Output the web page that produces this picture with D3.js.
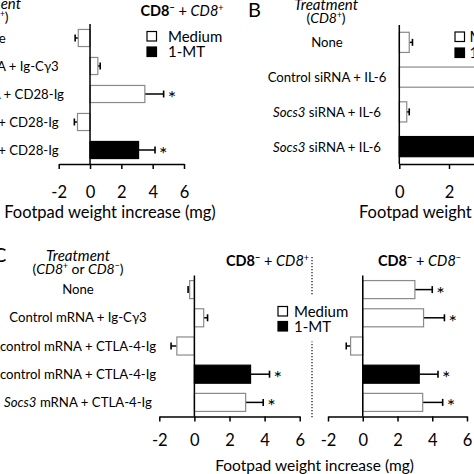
<!DOCTYPE html>
<html>
<head>
<meta charset="utf-8">
<script src="https://cdn.jsdelivr.net/npm/d3@7"></script>
<style>
  html, body { margin: 0; padding: 0; background: #fff; }
  svg { display: block; font-family: Lato, "Noto Sans", sans-serif; }
</style>
</head>
<body>
<svg id="chart" width="474" height="474"></svg>
<script>
// ---- data ----
var treatments = ['Medium', '1-MT'];
var tickValues = [-2, 0, 2, 4, 6];
var tickLabels = ['-2', '0', '2', '4', '6'];
var tickValuesB = [0, 2, 4, 6];
var tickLabelsB = ['0', '2', '4', '6'];

// panel A (CD8- + CD8+)
var groupsA = ['None', 'Control mRNA + Ig-C\u03b33', 'Control mRNA + CD28-Ig', 'Socs3 mRNA + CD28-Ig', 'Socs3 mRNA + CD28-Ig'];
var seriesA = ['Medium', 'Medium', 'Medium', 'Medium', '1-MT'];
var valuesA = [-0.75, 0.5, 3.5, -0.8, 3.1];
var errorsA = [0.2, 0.15, 1.2, 0.2, 1.05];
var starsA = [false, false, true, false, true];

// panel B (CD8+)
var groupsB = ['None', 'Control siRNA + IL-6', 'Socs3 siRNA + IL-6', 'Socs3 siRNA + IL-6'];
var seriesB = ['Medium', 'Medium', 'Medium', '1-MT'];
var valuesB = [0.4, 4.2, 0.3, 4.0];
var errorsB = [0.13, 0.9, 0.1, 0.8];
var starsB = [false, true, false, true];

// panel C
var groupsC = ['None', 'Control mRNA + Ig-C\u03b33', 'control mRNA + CTLA-4-Ig', 'control mRNA + CTLA-4-Ig', 'Socs3 mRNA + CTLA-4-Ig'];
var seriesC = ['Medium', 'Medium', 'Medium', '1-MT', 'Medium'];
var valuesC1 = [-0.27, 0.53, -1.0, 3.2, 2.92];   // CD8- + CD8+
var errorsC1 = [0.09, 0.22, 0.33, 1.08, 1.0];
var starsC1 = [false, false, false, true, true];
var valuesC2 = [3.0, 3.5, -0.7, 3.25, 3.45];     // CD8- + CD8-
var errorsC2 = [1.0, 1.2, 0.25, 1.08, 1.15];
var starsC2 = [true, true, false, true, true];

var svg = d3.select('#chart');
var fillOf = d3.scaleOrdinal().domain(treatments).range(['#fff', '#000']);
var strokeOf = d3.scaleOrdinal().domain(treatments).range(['#8a8a8a', '#000']);

function richLabel(sel, label) {
  // italicise the gene name
  var m = label.match(/^(Socs3)(.*)$/);
  if (m) {
    sel.append('tspan').attr('font-style', 'italic').text(m[1]);
    sel.append('tspan').text(m[2]);
  } else {
    sel.text(label);
  }
}

function cd8Title(x, y, anchor, lastSign) {
  var t = svg.append('text').attr('x', x).attr('y', y)
    .attr('text-anchor', anchor).attr('font-size', 14.5);
  t.append('tspan').attr('font-weight', 'bold').text('CD8');
  t.append('tspan').attr('font-weight', 'bold').attr('font-size', 9).attr('dy', -5).text('\u2212');
  t.append('tspan').attr('dy', 5).text(' + ');
  t.append('tspan').attr('font-style', 'italic').text('CD8');
  t.append('tspan').attr('font-size', 9).attr('dy', -5).text(lastSign);
}

function legend(x, y, gap, step, bg) {
  if (bg) {
    svg.append('rect').attr('x', x - 3).attr('y', y - 11)
      .attr('width', 62).attr('height', step + 31).attr('fill', '#fff');
  }
  treatments.forEach(function (t, i) {
    svg.append('rect')
      .attr('x', x).attr('y', y + i * step)
      .attr('width', 9.5).attr('height', 9.5)
      .attr('fill', fillOf(t)).attr('stroke', '#000').attr('stroke-width', 1.2);
    svg.append('text')
      .attr('x', x + 9.5 + gap).attr('y', y + i * step + 10)
      .attr('font-size', 15).text(t);
  });
}

function treatmentHead(cx, y, sub) {
  svg.append('text').attr('x', cx).attr('y', y).attr('text-anchor', 'middle')
    .attr('font-size', 15).attr('font-style', 'italic').text('Treatment');
  var t = svg.append('text').attr('x', cx).attr('y', y + 13).attr('text-anchor', 'middle')
    .attr('font-size', 14);
  t.append('tspan').text('(');
  var up = false;
  sub.forEach(function (s) {
    var dy = up ? 5 : 0;
    if (s.sign) {
      t.append('tspan').attr('font-size', 8.5).attr('dy', dy - 5).text(s.sign);
      up = true;
      return;
    }
    var ts = t.append('tspan').attr('dy', dy);
    if (s.it) { ts.attr('font-style', 'italic').text(s.it); } else { ts.text(s.t); }
    up = false;
  });
  t.append('tspan').attr('dy', up ? 5 : 0).text(')');
}

function rowLabels(groups, y, cx, dy) {
  groups.forEach(function (g, i) {
    var t = svg.append('text')
      .attr('x', cx).attr('y', y(i) + y.bandwidth() / 2 + dy)
      .attr('text-anchor', 'middle').attr('font-size', 13.2);
    richLabel(t, g);
  });
}

function barPanel(o) {
  var x = d3.scaleLinear().domain(o.domain).range(o.xRange);
  var y = d3.scaleBand().domain(d3.range(o.values.length))
    .range(o.yRange).paddingInner(o.pad).paddingOuter(o.pad / 2);
  var axisY = o.yRange[1];
  var g = svg.append('g');
  var rows = o.values.map(function (v, i) {
    return {v: v, e: o.errors[i], s: o.series[i], star: o.stars[i], i: i};
  });

  // error bars
  rows.forEach(function (d) {
    var end = d.v < 0 ? d.v - d.e : d.v + d.e;
    var cy = y(d.i) + y.bandwidth() / 2;
    g.append('line').attr('x1', x(d.v)).attr('x2', x(end))
      .attr('y1', cy).attr('y2', cy).attr('stroke', '#000').attr('stroke-width', 1.5);
    g.append('line').attr('x1', x(end)).attr('x2', x(end))
      .attr('y1', cy - 3.5).attr('y2', cy + 3.5).attr('stroke', '#000').attr('stroke-width', 1.6);
    if (d.star) {
      g.append('text').attr('x', x(end) + 4).attr('y', cy + 11)
        .attr('font-size', 20).attr('fill', '#000').text('*');
    }
  });

  // bars
  g.selectAll('rect.bar').data(rows).enter().append('rect')
    .attr('class', 'bar')
    .attr('x', function (d) { return x(Math.min(0, d.v)); })
    .attr('y', function (d) { return y(d.i); })
    .attr('width', function (d) { return Math.abs(x(d.v) - x(0)); })
    .attr('height', y.bandwidth())
    .attr('fill', function (d) { return fillOf(d.s); })
    .attr('stroke', function (d) { return strokeOf(d.s); })
    .attr('stroke-width', 1.2);

  // zero line
  g.append('line').attr('x1', x(0)).attr('x2', x(0))
    .attr('y1', o.yRange[0]).attr('y2', axisY)
    .attr('stroke', '#000').attr('stroke-width', 1.5);

  // x axis
  var ax = g.append('g').attr('transform', 'translate(0,' + axisY + ')')
    .call(d3.axisBottom(x).tickValues(o.ticks)
      .tickFormat(function (d, i) { return o.tickLabels[i]; })
      .tickSize(5).tickSizeOuter(0).tickPadding(o.tickPad));
  ax.select('.domain').attr('stroke-width', 1.5);
  ax.selectAll('.tick line').attr('stroke-width', 1.5);
  ax.selectAll('.tick text').attr('font-size', 16.5)
    .attr('font-family', 'Lato, "Noto Sans", sans-serif').attr('fill', '#000');
  return y;
}

// ---------- panel A ----------
var yA = barPanel({domain: [-2, 6], xRange: [58.7, 184], yRange: [24, 164], pad: 0.39,
  values: valuesA, errors: errorsA, series: seriesA, stars: starsA,
  ticks: tickValues, tickLabels: tickLabels, tickPad: 17.6});
rowLabels(groupsA, yA, -10, 4.5);
treatmentHead(-11, 9, [{it: 'CD8'}, {sign: '+'}]);
cd8Title(182, 16, 'middle', '+');
legend(147, 31.5, 11.5, 15.5);
svg.append('text').attr('x', 110).attr('y', 218).attr('text-anchor', 'middle')
  .attr('font-size', 16.5).text('Footpad weight increase (mg)');

// ---------- panel B ----------
svg.append('text').attr('x', 248).attr('y', 17).attr('font-size', 20).text('B');
var yB = barPanel({domain: [0, 6], xRange: [399.3, 548.4], yRange: [25, 164], pad: 0.42,
  values: valuesB, errors: errorsB, series: seriesB, stars: starsB,
  ticks: tickValuesB, tickLabels: tickLabelsB, tickPad: 17.6});
rowLabels(groupsB, yB, 327, 5);
treatmentHead(326, 9.5, [{it: 'CD8'}, {sign: '+'}]);
legend(455, 32, 5, 16);
svg.append('text').attr('x', 359).attr('y', 218)
  .attr('font-size', 16.5).text('Footpad weight increase (mg)');

// ---------- panel C ----------
svg.append('text').attr('x', -7).attr('y', 262).attr('font-size', 20).text('C');
treatmentHead(78, 261, [{it: 'CD8'}, {sign: '+'}, {t: ' or '}, {it: 'CD8'}, {sign: '\u2212'}]);
var yC = barPanel({domain: [-2, 6], xRange: [159.3, 299.7], yRange: [275.5, 416.5], pad: 0.36,
  values: valuesC1, errors: errorsC1, series: seriesC, stars: starsC1,
  ticks: tickValues, tickLabels: tickLabels, tickPad: 12.6});
barPanel({domain: [-2, 6], xRange: [328, 467], yRange: [275.5, 416.5], pad: 0.36,
  values: valuesC2, errors: errorsC2, series: seriesC, stars: starsC2,
  ticks: tickValues, tickLabels: tickLabels, tickPad: 12.6});
rowLabels(groupsC, yC, 78, 4.5);
cd8Title(267.5, 266, 'middle', '+');
cd8Title(419.5, 266, 'middle', '\u2212');
svg.append('line').attr('x1', 312).attr('x2', 312).attr('y1', 257).attr('y2', 419)
  .attr('stroke', '#222').attr('stroke-width', 1.3).attr('stroke-dasharray', '1.3,1.7');
legend(278, 306.5, 6.5, 15, true);
svg.append('text').attr('x', 314.5).attr('y', 471).attr('text-anchor', 'middle')
  .attr('font-size', 15.5).text('Footpad weight increase (mg)');
</script>
</body>
</html>
